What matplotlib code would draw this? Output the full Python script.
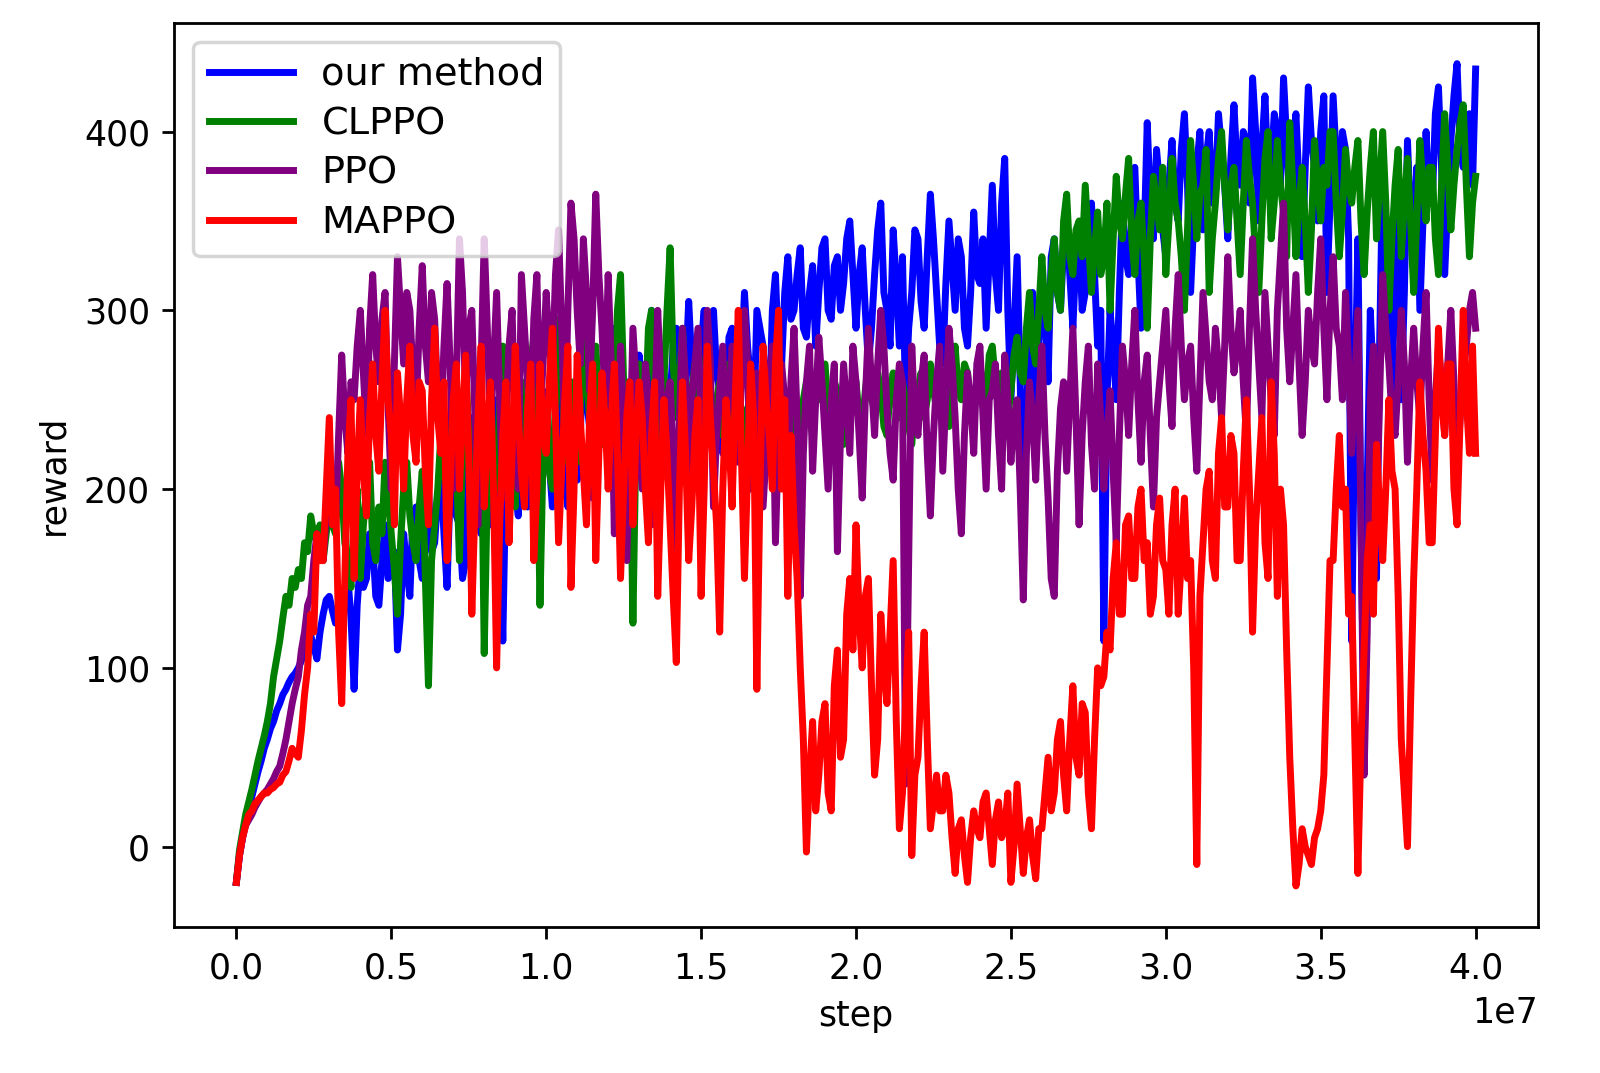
import numpy as np
import matplotlib
matplotlib.use("Agg")
import matplotlib.pyplot as plt

# rewards read every 1e5 steps, 0 .. 4e7 (20 readings per row)
our_method = [
    -20, -5, 5, 15, 20, 28, 35, 42, 48, 55, 60, 66, 70, 76, 80, 85, 88, 92, 95, 97,
    100, 104, 110, 115, 118, 112, 105, 120, 130, 138, 140, 132, 125, 135, 120, 142, 150, 128, 88, 135,
    160, 145, 150, 175, 170, 140, 135, 160, 180, 150, 155, 165, 110, 130, 175, 155, 140, 185, 190, 160,
    150, 180, 200, 165, 170, 195, 210, 175, 145, 200, 230, 185, 180, 150, 160, 215, 240, 210, 195, 175,
    215, 240, 180, 200, 250, 190, 115, 210, 225, 240, 200, 185, 260, 220, 190, 245, 235, 200, 210, 255,
    250, 215, 190, 240, 270, 230, 220, 190, 245, 260, 205, 230, 280, 250, 235, 195, 215, 250, 260, 225,
    230, 265, 290, 240, 215, 250, 260, 225, 200, 240, 275, 255, 240, 210, 300, 265, 225, 250, 265, 235,
    250, 280, 290, 240, 210, 265, 305, 270, 245, 225, 280, 300, 230, 255, 300, 265, 255, 220, 240, 285,
    290, 245, 225, 270, 310, 280, 260, 235, 300, 290, 280, 250, 240, 300, 320, 275, 270, 310, 330, 295,
    300, 320, 335, 290, 285, 310, 325, 280, 310, 335, 340, 300, 295, 325, 330, 300, 315, 340, 350, 320,
    290, 320, 335, 300, 270, 290, 320, 345, 360, 310, 300, 280, 345, 315, 280, 330, 250, 290, 310, 345,
    340, 305, 290, 330, 365, 340, 310, 280, 270, 315, 350, 325, 300, 340, 330, 290, 280, 310, 355, 320,
    315, 340, 290, 330, 370, 320, 300, 360, 385, 300, 250, 290, 330, 260, 175, 240, 290, 310, 230, 280,
    320, 300, 260, 330, 340, 310, 300, 335, 355, 320, 290, 330, 345, 300, 310, 340, 360, 320, 280, 300,
    115, 250, 300, 280, 250, 310, 360, 330, 320, 350, 380, 330, 290, 340, 405, 360, 340, 390, 370, 345,
    330, 370, 395, 360, 350, 390, 410, 370, 310, 350, 380, 400, 345, 385, 400, 360, 365, 410, 390, 370,
    340, 385, 415, 380, 370, 400, 395, 360, 430, 400, 350, 390, 420, 375, 380, 410, 400, 370, 430, 395,
    360, 390, 410, 370, 330, 380, 425, 395, 380, 350, 400, 420, 310, 360, 420, 385, 350, 400, 390, 340,
    115, 250, 340, 180, 65, 200, 300, 260, 150, 280, 380, 320, 280, 250, 330, 370, 250, 310, 395, 350,
    340, 380, 300, 350, 400, 360, 360, 410, 425, 380, 320, 360, 395, 420, 438, 390, 380, 400, 410, 370,
    435,
]

clppo = [
    -20, -2, 8, 18, 25, 32, 40, 48, 55, 62, 70, 80, 95, 105, 115, 128, 140, 135, 150, 145,
    155, 150, 170, 165, 185, 175, 170, 180, 160, 175, 190, 180, 175, 215, 200, 170, 160, 145, 185, 200,
    150, 180, 200, 215, 170, 160, 190, 175, 215, 195, 175, 155, 130, 170, 200, 215, 185, 170, 160, 190,
    210, 150, 90, 160, 180, 200, 230, 210, 200, 230, 250, 215, 160, 220, 270, 230, 210, 190, 185, 250,
    108, 200, 240, 210, 200, 250, 280, 240, 230, 200, 190, 230, 260, 230, 210, 270, 285, 240, 135, 220,
    245, 210, 200, 250, 295, 260, 230, 215, 260, 240, 215, 245, 300, 260, 240, 270, 280, 250, 225, 260,
    290, 265, 250, 300, 320, 260, 200, 240, 125, 230, 270, 245, 240, 290, 300, 255, 215, 240, 260, 300,
    335, 270, 240, 260, 290, 250, 210, 255, 270, 240, 230, 265, 280, 240, 215, 250, 260, 230, 240, 270,
    225, 250, 270, 240, 210, 245, 250, 220, 235, 260, 265, 240, 220, 250, 245, 230, 255, 235, 215, 240,
    240, 225, 210, 250, 260, 240, 230, 255, 250, 265, 270, 245, 235, 260, 255, 240, 225, 250, 245, 265,
    260, 240, 235, 255, 270, 250, 245, 265, 255, 235, 230, 255, 265, 245, 240, 260, 250, 235, 225, 250,
    255, 265, 240, 250, 270, 255, 245, 260, 260, 240, 235, 265, 280, 255, 250, 270, 265, 245, 240, 260,
    270, 255, 250, 275, 280, 260, 245, 265, 265, 240, 255, 275, 285, 265, 260, 290, 310, 280, 270, 300,
    330, 300, 290, 320, 340, 310, 300, 350, 365, 330, 320, 345, 350, 330, 370, 340, 310, 335, 355, 320,
    330, 360, 300, 340, 375, 350, 340, 365, 385, 340, 320, 350, 360, 330, 290, 340, 375, 360, 345, 380,
    320, 350, 385, 360, 350, 330, 300, 345, 395, 370, 340, 365, 370, 390, 310, 340, 360, 385, 400, 370,
    345, 370, 380, 350, 320, 360, 395, 375, 360, 330, 310, 350, 385, 400, 340, 360, 395, 370, 355, 330,
    405, 370, 330, 360, 380, 350, 310, 345, 395, 370, 350, 380, 370, 400, 400, 360, 330, 355, 390, 370,
    360, 380, 395, 350, 320, 355, 380, 400, 340, 370, 400, 360, 300, 340, 370, 390, 330, 360, 385, 350,
    310, 350, 395, 370, 350, 380, 380, 340, 320, 370, 410, 380, 345, 370, 390, 405, 415, 370, 330, 360,
    375,
]

ppo = [
    -20, -5, 5, 12, 15, 18, 22, 25, 28, 30, 32, 35, 38, 42, 45, 52, 60, 70, 80, 88,
    95, 110, 120, 135, 140, 160, 175, 165, 160, 185, 205, 195, 180, 230, 275, 240, 220, 260, 250, 280,
    300, 265, 230, 290, 320, 280, 260, 295, 310, 245, 200, 270, 330, 300, 270, 310, 300, 265, 240, 290,
    325, 280, 260, 310, 295, 250, 230, 280, 315, 270, 200, 260, 340, 310, 250, 290, 300, 240, 180, 270,
    340, 290, 230, 270, 310, 250, 195, 240, 280, 300, 230, 200, 320, 290, 260, 230, 295, 320, 240, 270,
    310, 280, 265, 320, 345, 290, 225, 300, 360, 340, 300, 270, 340, 310, 255, 300, 365, 320, 290, 250,
    320, 270, 175, 230, 280, 240, 160, 220, 290, 260, 230, 200, 270, 250, 180, 240, 300, 260, 210, 250,
    260, 220, 150, 240, 290, 260, 210, 250, 270, 290, 235, 210, 300, 270, 190, 230, 255, 280, 225, 250,
    280, 250, 215, 260, 300, 270, 200, 240, 265, 230, 190, 220, 250, 280, 170, 230, 270, 250, 195, 260,
    290, 240, 140, 220, 260, 280, 210, 250, 285, 260, 230, 200, 250, 270, 165, 230, 270, 245, 220, 280,
    260, 230, 195, 250, 290, 260, 230, 270, 300, 280, 245, 220, 205, 250, 270, 260, 35, 160, 280, 240,
    230, 260, 275, 220, 185, 230, 260, 280, 210, 250, 290, 270, 240, 200, 175, 230, 265, 250, 220, 270,
    280, 240, 200, 250, 255, 270, 230, 200, 275, 250, 215, 240, 250, 200, 138, 220, 260, 240, 205, 250,
    280, 230, 195, 150, 140, 210, 245, 260, 210, 250, 290, 240, 180, 230, 260, 280, 225, 200, 270, 240,
    200, 230, 255, 210, 170, 230, 280, 260, 230, 270, 300, 250, 215, 260, 275, 230, 190, 240, 260, 280,
    300, 260, 235, 290, 320, 280, 250, 270, 280, 240, 210, 260, 310, 285, 260, 250, 290, 270, 240, 280,
    330, 290, 265, 280, 300, 260, 230, 290, 340, 300, 270, 240, 310, 280, 250, 230, 300, 330, 360, 290,
    260, 290, 320, 270, 230, 260, 300, 280, 270, 310, 340, 290, 250, 300, 330, 290, 280, 250, 310, 270,
    220, 260, 300, 180, 40, 120, 250, 280, 180, 250, 320, 290, 270, 240, 230, 260, 300, 270, 215, 260,
    290, 260, 240, 280, 310, 250, 205, 250, 280, 260, 230, 270, 300, 260, 210, 240, 265, 280, 300, 310,
    290,
]

mappo = [
    -20, -5, 5, 12, 18, 20, 24, 26, 28, 30, 30, 32, 33, 35, 36, 40, 42, 48, 55, 52,
    50, 65, 85, 100, 130, 120, 175, 160, 160, 200, 240, 180, 200, 120, 80, 150, 220, 250, 150, 210,
    250, 210, 185, 240, 270, 230, 210, 260, 300, 250, 230, 180, 265, 240, 200, 250, 280, 230, 215, 260,
    255, 210, 180, 250, 290, 240, 220, 260, 160, 200, 250, 270, 200, 240, 275, 220, 130, 190, 240, 280,
    190, 230, 260, 200, 100, 180, 230, 260, 170, 220, 280, 240, 210, 190, 245, 270, 160, 200, 270, 230,
    220, 260, 290, 240, 170, 210, 250, 280, 145, 200, 275, 240, 210, 180, 240, 270, 160, 220, 265, 240,
    200, 240, 270, 220, 150, 200, 240, 260, 180, 230, 260, 240, 200, 170, 230, 260, 140, 200, 250, 220,
    180, 140, 103, 200, 260, 220, 160, 190, 230, 250, 140, 200, 280, 240, 210, 180, 120, 200, 250, 230,
    190, 250, 300, 220, 150, 210, 270, 240, 88, 200, 280, 250, 230, 200, 270, 300, 200, 250, 140, 230,
    180, 150, 100, 60, -3, 40, 70, 20, 40, 70, 80, 30, 20, 90, 110, 50, 60, 130, 150, 110,
    180, 130, 100, 140, 150, 90, 40, 60, 130, 100, 80, 120, 160, 70, 10, 30, 80, 120, -5, 40,
    50, 90, 120, 60, 10, 25, 40, 20, 20, 40, 30, 5, -15, 10, 15, -5, -20, 5, 20, 10,
    5, 25, 30, 10, -10, 15, 25, 5, 10, 30, -20, 0, 35, 10, -15, 5, 15, -5, -18, 10,
    10, 30, 50, 20, 30, 60, 70, 40, 20, 60, 90, 50, 40, 80, 75, 30, 10, 60, 100, 90,
    95, 120, 110, 150, 170, 130, 130, 180, 185, 150, 150, 190, 200, 160, 170, 130, 140, 180, 195, 160,
    155, 130, 180, 200, 130, 160, 195, 150, 160, 100, -10, 140, 170, 200, 210, 160, 150, 220, 240, 190,
    190, 230, 220, 160, 160, 210, 250, 200, 120, 180, 210, 240, 170, 150, 260, 220, 140, 200, 180, 110,
    50, 10, -22, -10, 10, 0, -5, -10, 5, 10, 20, 40, 100, 160, 160, 200, 230, 190, 200, 130,
    140, 60, -15, 60, 110, 160, 180, 130, 225, 190, 160, 200, 250, 210, 200, 140, 60, 30, 0, 80,
    150, 200, 260, 230, 210, 170, 170, 230, 290, 250, 230, 270, 270, 200, 180, 240, 300, 250, 220, 280,
    220,
]

series = [
    (our_method, 'blue', 'our method'),
    (clppo, 'green', 'CLPPO'),
    (ppo, 'purple', 'PPO'),
    (mappo, 'red', 'MAPPO'),
]

fig, ax = plt.subplots(figsize=(6.4, 4.292), dpi=250)
for values, color, label in series:
    steps = np.arange(len(values)) * 1e5
    ax.plot(steps, values, color=color, label=label, linewidth=2.0)

ax.set_xlabel('step')
ax.set_ylabel('reward')
ax.legend(loc='upper left', fontsize=11, labelspacing=0.35,
          handlelength=2.2, handletextpad=0.75)
fig.subplots_adjust(left=0.109, right=0.961, top=0.979, bottom=0.136)
fig.savefig('out.png')
